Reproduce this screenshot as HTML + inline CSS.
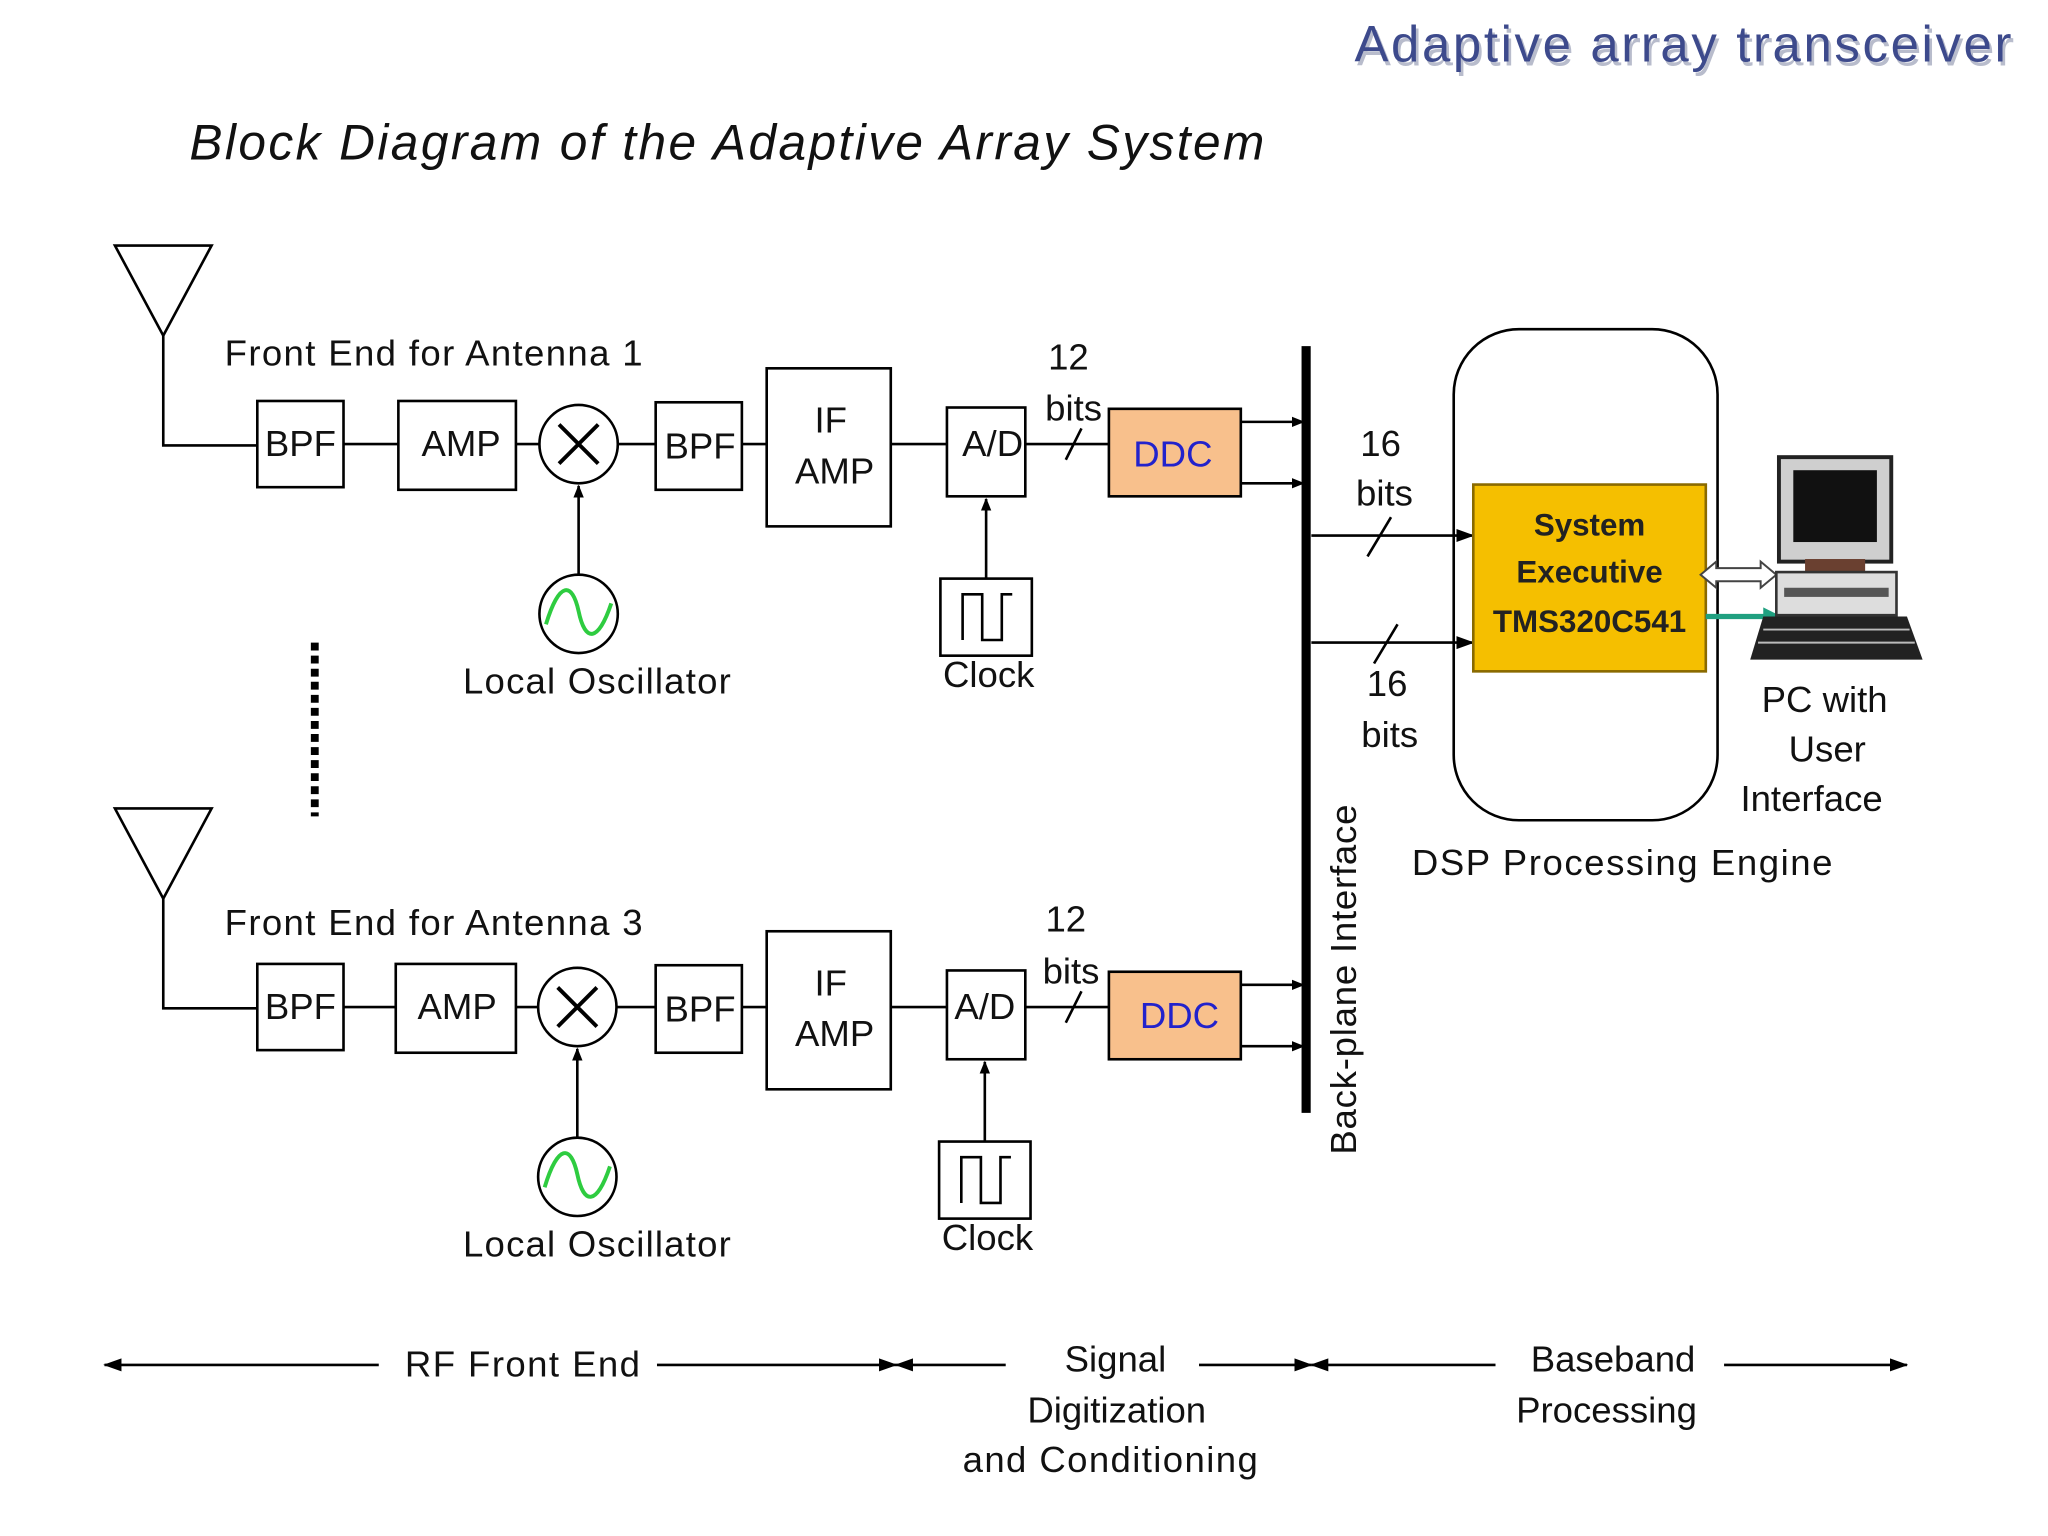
<!DOCTYPE html>
<html><head><meta charset="utf-8"><style>
html,body{margin:0;padding:0;background:#fff;}
svg{display:block;}
text{font-family:"Liberation Sans",sans-serif;}
</style></head><body>
<svg width="2048" height="1536" viewBox="0 0 1568 1176" xmlns="http://www.w3.org/2000/svg">
<defs>
<marker id="ah" markerWidth="10" markerHeight="10" refX="9" refY="5" orient="auto" markerUnits="userSpaceOnUse" viewBox="0 0 10 10"><path d="M0,1 L10,5 L0,9 Z" fill="#000"/></marker>
<marker id="ah2" markerWidth="14" markerHeight="12" refX="13" refY="6" orient="auto" markerUnits="userSpaceOnUse" viewBox="0 0 14 12"><path d="M0,1 L14,6 L0,11 Z" fill="#000"/></marker>
</defs>
<rect width="1568" height="1176" fill="#fff"/>
<text x="1037" y="47" font-size="39" fill="#b8bccc" transform="translate(2,3)" textLength="503" lengthAdjust="spacing">Adaptive array transceiver</text>
<text x="1037" y="47" font-size="39" fill="#3d4a8c" textLength="503" lengthAdjust="spacing">Adaptive array transceiver</text>
<text x="145" y="122" font-size="38" font-style="italic" fill="#111" textLength="823" lengthAdjust="spacing">Block Diagram of the Adaptive Array System</text>

<g stroke="#000" stroke-width="2" fill="none">
<path d="M88,188 L162,188 L125,257 Z"/>
<path d="M125,257 L125,341 L197,341"/>
<rect x="197" y="307" width="66" height="66" fill="#fff"/>
<line x1="263" y1="340" x2="305" y2="340"/>
<rect x="305" y="307" width="90" height="68" fill="#fff"/>
<line x1="395" y1="340" x2="413" y2="340"/>
<circle cx="443" cy="340" r="30" fill="#fff"/>
<path d="M428,325 L458,355 M458,325 L428,355" stroke-width="3"/>
<line x1="473" y1="340" x2="502" y2="340"/>
<rect x="502" y="308" width="66" height="67" fill="#fff"/>
<line x1="568" y1="340" x2="587" y2="340"/>
<rect x="587" y="282" width="95" height="121" fill="#fff"/>
<line x1="682" y1="340" x2="725" y2="340"/>
<rect x="725" y="312" width="60" height="68" fill="#fff"/>
<line x1="785" y1="340" x2="849" y2="340"/>
<line x1="816" y1="352" x2="828" y2="328"/>
<rect x="849" y="313" width="101" height="67" fill="#f8c08c"/>
<line x1="950" y1="323" x2="998" y2="323" marker-end="url(#ah)"/>
<line x1="950" y1="370" x2="998" y2="370" marker-end="url(#ah)"/>
<circle cx="443" cy="470" r="30" fill="#fff"/>
<path d="M418,478 C428,445 438,445 443,468 C448,492 458,492 468,462" stroke="#2ecc40" stroke-width="3"/>
<line x1="443" y1="440" x2="443" y2="372" marker-end="url(#ah)"/>
<rect x="720" y="443" width="70" height="59" fill="#fff"/>
<path d="M737,490 L737,455 L752,455 L752,490 L767,490 L767,455 L775,455"/>
<line x1="755" y1="443" x2="755" y2="382" marker-end="url(#ah)"/>
</g>
<g font-size="28" fill="#111" text-anchor="middle">
<text x="230" y="349">BPF</text>
<text x="353" y="349">AMP</text>
<text x="536" y="351">BPF</text>
<text x="636" y="331">IF</text>
<text x="639" y="370">AMP</text>
<text x="760" y="349">A/D</text>
<text x="898" y="357" fill="#2222cc">DDC</text>
<text x="818" y="283">12</text>
<text x="822" y="322">bits</text>
<text x="457" y="531" textLength="205" lengthAdjust="spacing">Local Oscillator</text>
<text x="757" y="526">Clock</text>
<text x="332" y="280" textLength="320" lengthAdjust="spacing">Front End for Antenna 1</text>
</g>

<g transform="translate(0,431)">
<g stroke="#000" stroke-width="2" fill="none">
<path d="M88,188 L162,188 L125,257 Z"/>
<path d="M125,257 L125,341 L197,341"/>
<rect x="197" y="307" width="66" height="66" fill="#fff"/>
<line x1="263" y1="340" x2="305" y2="340"/>
<rect x="303" y="307" width="92" height="68" fill="#fff"/>
<line x1="395" y1="340" x2="413" y2="340"/>
<circle cx="442" cy="340" r="30" fill="#fff"/>
<path d="M427,325 L457,355 M457,325 L427,355" stroke-width="3"/>
<line x1="472" y1="340" x2="502" y2="340"/>
<rect x="502" y="308" width="66" height="67" fill="#fff"/>
<line x1="568" y1="340" x2="587" y2="340"/>
<rect x="587" y="282" width="95" height="121" fill="#fff"/>
<line x1="682" y1="340" x2="725" y2="340"/>
<rect x="725" y="312" width="60" height="68" fill="#fff"/>
<line x1="785" y1="340" x2="849" y2="340"/>
<line x1="816" y1="352" x2="828" y2="328"/>
<rect x="849" y="313" width="101" height="67" fill="#f8c08c"/>
<line x1="950" y1="323" x2="998" y2="323" marker-end="url(#ah)"/>
<line x1="950" y1="370" x2="998" y2="370" marker-end="url(#ah)"/>
<circle cx="442" cy="470" r="30" fill="#fff"/>
<path d="M417,478 C427,445 437,445 442,468 C447,492 457,492 467,462" stroke="#2ecc40" stroke-width="3"/>
<line x1="442" y1="440" x2="442" y2="372" marker-end="url(#ah)"/>
<rect x="719" y="443" width="70" height="59" fill="#fff"/>
<path d="M736,490 L736,455 L751,455 L751,490 L766,490 L766,455 L774,455"/>
<line x1="754" y1="443" x2="754" y2="382" marker-end="url(#ah)"/>
</g>
<g font-size="28" fill="#111" text-anchor="middle">
<text x="230" y="349">BPF</text>
<text x="350" y="349">AMP</text>
<text x="536" y="351">BPF</text>
<text x="636" y="331">IF</text>
<text x="639" y="370">AMP</text>
<text x="754" y="349">A/D</text>
<text x="903" y="356" fill="#2222cc">DDC</text>
<text x="816" y="282">12</text>
<text x="820" y="322">bits</text>
<text x="457" y="531" textLength="205" lengthAdjust="spacing">Local Oscillator</text>
<text x="756" y="526">Clock</text>
<text x="332" y="285" textLength="320" lengthAdjust="spacing">Front End for Antenna 3</text>
</g>
</g>

<line x1="241" y1="492" x2="241" y2="625" stroke="#000" stroke-width="6" stroke-dasharray="6,4"/>
<line x1="1000" y1="265" x2="1000" y2="852" stroke="#000" stroke-width="7"/>
<text transform="translate(1038,884) rotate(-90)" font-size="28" fill="#111" textLength="268" lengthAdjust="spacing">Back-plane Interface</text>

<rect x="1113" y="252" width="202" height="376" rx="50" fill="none" stroke="#000" stroke-width="2"/>
<g stroke="#000" stroke-width="2">
<line x1="1004" y1="410" x2="1128" y2="410" marker-end="url(#ah2)"/>
<line x1="1004" y1="492" x2="1128" y2="492" marker-end="url(#ah2)"/>
<line x1="1047" y1="426" x2="1065" y2="396"/>
<line x1="1052" y1="508" x2="1070" y2="478"/>
</g>
<g font-size="28" fill="#111" text-anchor="middle">
<text x="1057" y="349">16</text>
<text x="1060" y="387">bits</text>
<text x="1062" y="533">16</text>
<text x="1064" y="572">bits</text>
</g>
<rect x="1128" y="371" width="178" height="143" fill="#f5bf00" stroke="#8a6a00" stroke-width="2"/>
<g font-size="24" font-weight="bold" fill="#222" text-anchor="middle">
<text x="1217" y="410">System</text>
<text x="1217" y="446">Executive</text>
<text x="1217" y="484">TMS320C541</text>
</g>
<path d="M1302,440 L1314,430 L1314,435 L1348,435 L1348,430 L1360,440 L1348,450 L1348,445 L1314,445 L1314,450 Z" fill="#fff" stroke="#444" stroke-width="1.5"/>
<line x1="1306" y1="472" x2="1352" y2="472" stroke="#20a080" stroke-width="4"/>
<path d="M1350,465 L1364,472 L1350,479 Z" fill="#20a080"/>
<g>
<rect x="1362" y="350" width="86" height="80" fill="#cfcfcf" stroke="#222" stroke-width="3"/>
<rect x="1373" y="360" width="64" height="55" fill="#111"/>
<rect x="1382" y="428" width="46" height="10" fill="#6a4030"/>
<rect x="1360" y="438" width="92" height="33" fill="#ddd" stroke="#333" stroke-width="2"/>
<rect x="1366" y="450" width="80" height="7" fill="#555"/>
<path d="M1350,472 L1460,472 L1472,505 L1340,505 Z" fill="#222"/>
<g stroke="#bbb" stroke-width="1.5"><line x1="1350" y1="482" x2="1462" y2="482"/><line x1="1346" y1="492" x2="1466" y2="492"/></g>
</g>
<g font-size="28" fill="#111" text-anchor="middle">
<text x="1397" y="545">PC with</text>
<text x="1399" y="583">User</text>
<text x="1387" y="621">Interface</text>
<text x="1242" y="670" textLength="322" lengthAdjust="spacing">DSP Processing Engine</text>
</g>

<g stroke="#000" stroke-width="2" fill="none">
<line x1="290" y1="1045" x2="80" y2="1045" marker-end="url(#ah2)"/>
<line x1="503" y1="1045" x2="686" y2="1045" marker-end="url(#ah2)"/>
<line x1="770" y1="1045" x2="686" y2="1045" marker-end="url(#ah2)"/>
<line x1="918" y1="1045" x2="1004" y2="1045" marker-end="url(#ah2)"/>
<line x1="1145" y1="1045" x2="1004" y2="1045" marker-end="url(#ah2)"/>
<line x1="1320" y1="1045" x2="1460" y2="1045" marker-end="url(#ah2)"/>
</g>
<g font-size="28" fill="#111" text-anchor="middle">
<text x="400" y="1054" textLength="180" lengthAdjust="spacing">RF Front End</text>
<text x="854" y="1050">Signal</text>
<text x="855" y="1089">Digitization</text>
<text x="850" y="1127" textLength="226" lengthAdjust="spacing">and Conditioning</text>
<text x="1235" y="1050">Baseband</text>
<text x="1230" y="1089">Processing</text>
</g>
</svg>
</body></html>
